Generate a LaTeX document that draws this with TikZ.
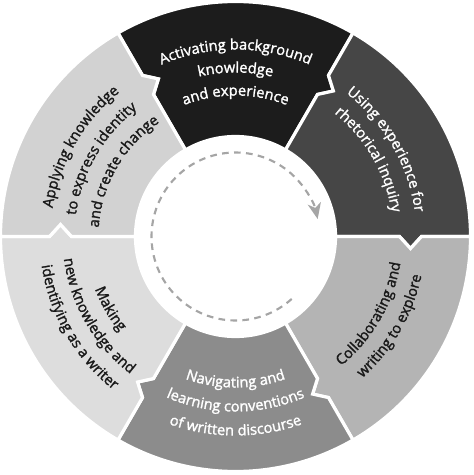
\documentclass[tikz,border=0pt]{standalone}
\definecolor{segblack}{RGB}{28, 28, 28}
\definecolor{segdark}{RGB}{70, 70, 70}
\definecolor{segsilver}{RGB}{180, 180, 180}
\definecolor{segmid}{RGB}{140, 140, 140}
\definecolor{segpale}{RGB}{221, 221, 221}
\definecolor{seglight}{RGB}{210, 210, 210}
\definecolor{dashgray}{RGB}{165, 165, 165}
\definecolor{inkblack}{RGB}{25, 25, 25}
\usepackage{fontspec}
\setmainfont{Open Sans}
\newfontfamily\ringfamily{Open Sans}[FakeBold=1.6]
\newcommand{\ringfont}{\ringfamily\fontsize{11}{13}\selectfont}
\usepackage{tikz}
\usetikzlibrary{arrows.meta, calc, decorations.text}
\newcommand{\ringin}{100}
\newcommand{\ringout}{235}
\newcommand{\notchr}{175}
\newcommand{\notchw}{11}
\newcommand{\notchd}{12}

\begin{document}
\begin{tikzpicture}[x=0.75pt, y=0.75pt,
  ringpart/.style={draw=white, line width=2.4pt, line join=miter},
  arctext/.style 2 args={decorate, decoration={text along path, text align=center, text={|\ringfont\color{#1}|#2}}}]
  \useasboundingbox (-235.5,-238.5) rectangle (238.5,236.5);

  % ring segments, clockwise from the top
  \foreach \a/\c in {120/segblack, 60/segdark, 0/segsilver, -60/segmid, -120/segpale, 180/seglight} {
    \pgfmathsetmacro\b{\a-60}
    \filldraw[ringpart, fill=\c] (\a:\ringin) -- (\a:{\notchr-\notchw}) -- ($(\a:\notchr)+({\a-90}:\notchd)$) -- (\a:{\notchr+\notchw})
      -- (\a:\ringout) arc[start angle=\a, end angle=\b, radius=\ringout]
      -- (\b:{\notchr+\notchw}) -- ($(\b:\notchr)+({\b-90}:\notchd)$) -- (\b:{\notchr-\notchw})
      -- (\b:\ringin) arc[start angle=\b, end angle=\a, radius=\ringin] -- cycle;
  }

  % dashed cycle arrow
  \draw[dashgray, line width=1.6pt, dash pattern=on 5pt off 4pt, -{Stealth[length=12pt, width=10pt, inset=3.5pt]}]
    (-48:84) arc[start angle=-48, end angle=-348, radius=84];

  % top
  \path[arctext={white}{Activating background}] (135:187) arc[start angle=135, end angle=45, radius=187];
  \path[arctext={white}{knowledge}] (135:164) arc[start angle=135, end angle=45, radius=164];
  \path[arctext={white}{and experience}] (135:141) arc[start angle=135, end angle=45, radius=141];

  % upper right
  \path[arctext={white}{Using experience for}] (75:181) arc[start angle=75, end angle=-15, radius=181];
  \path[arctext={white}{rhetorical inquiry}] (75:158) arc[start angle=75, end angle=-15, radius=158];

  % lower right
  \path[arctext={inkblack}{Collaborating and}] (-75:167) arc[start angle=-75, end angle=15, radius=167];
  \path[arctext={inkblack}{writing to explore}] (-75:190) arc[start angle=-75, end angle=15, radius=190];

  % bottom
  \path[arctext={white}{Navigating and}] (-135:151) arc[start angle=-135, end angle=-45, radius=151];
  \path[arctext={white}{learning conventions}] (-135:175) arc[start angle=-135, end angle=-45, radius=175];
  \path[arctext={white}{of written discourse}] (-135:199) arc[start angle=-135, end angle=-45, radius=199];

  % lower left
  \path[arctext={inkblack}{Making}] (165:150) arc[start angle=165, end angle=255, radius=150];
  \path[arctext={inkblack}{new knowledge and}] (165:173) arc[start angle=165, end angle=255, radius=173];
  \path[arctext={inkblack}{identifying as a writer}] (165:196) arc[start angle=165, end angle=255, radius=196];

  % upper left
  \path[arctext={inkblack}{Applying knowledge}] (195:185) arc[start angle=195, end angle=105, radius=185];
  \path[arctext={inkblack}{to express identity}] (195:161) arc[start angle=195, end angle=105, radius=161];
  \path[arctext={inkblack}{and create change}] (195:137) arc[start angle=195, end angle=105, radius=137];
\end{tikzpicture}
\end{document}
